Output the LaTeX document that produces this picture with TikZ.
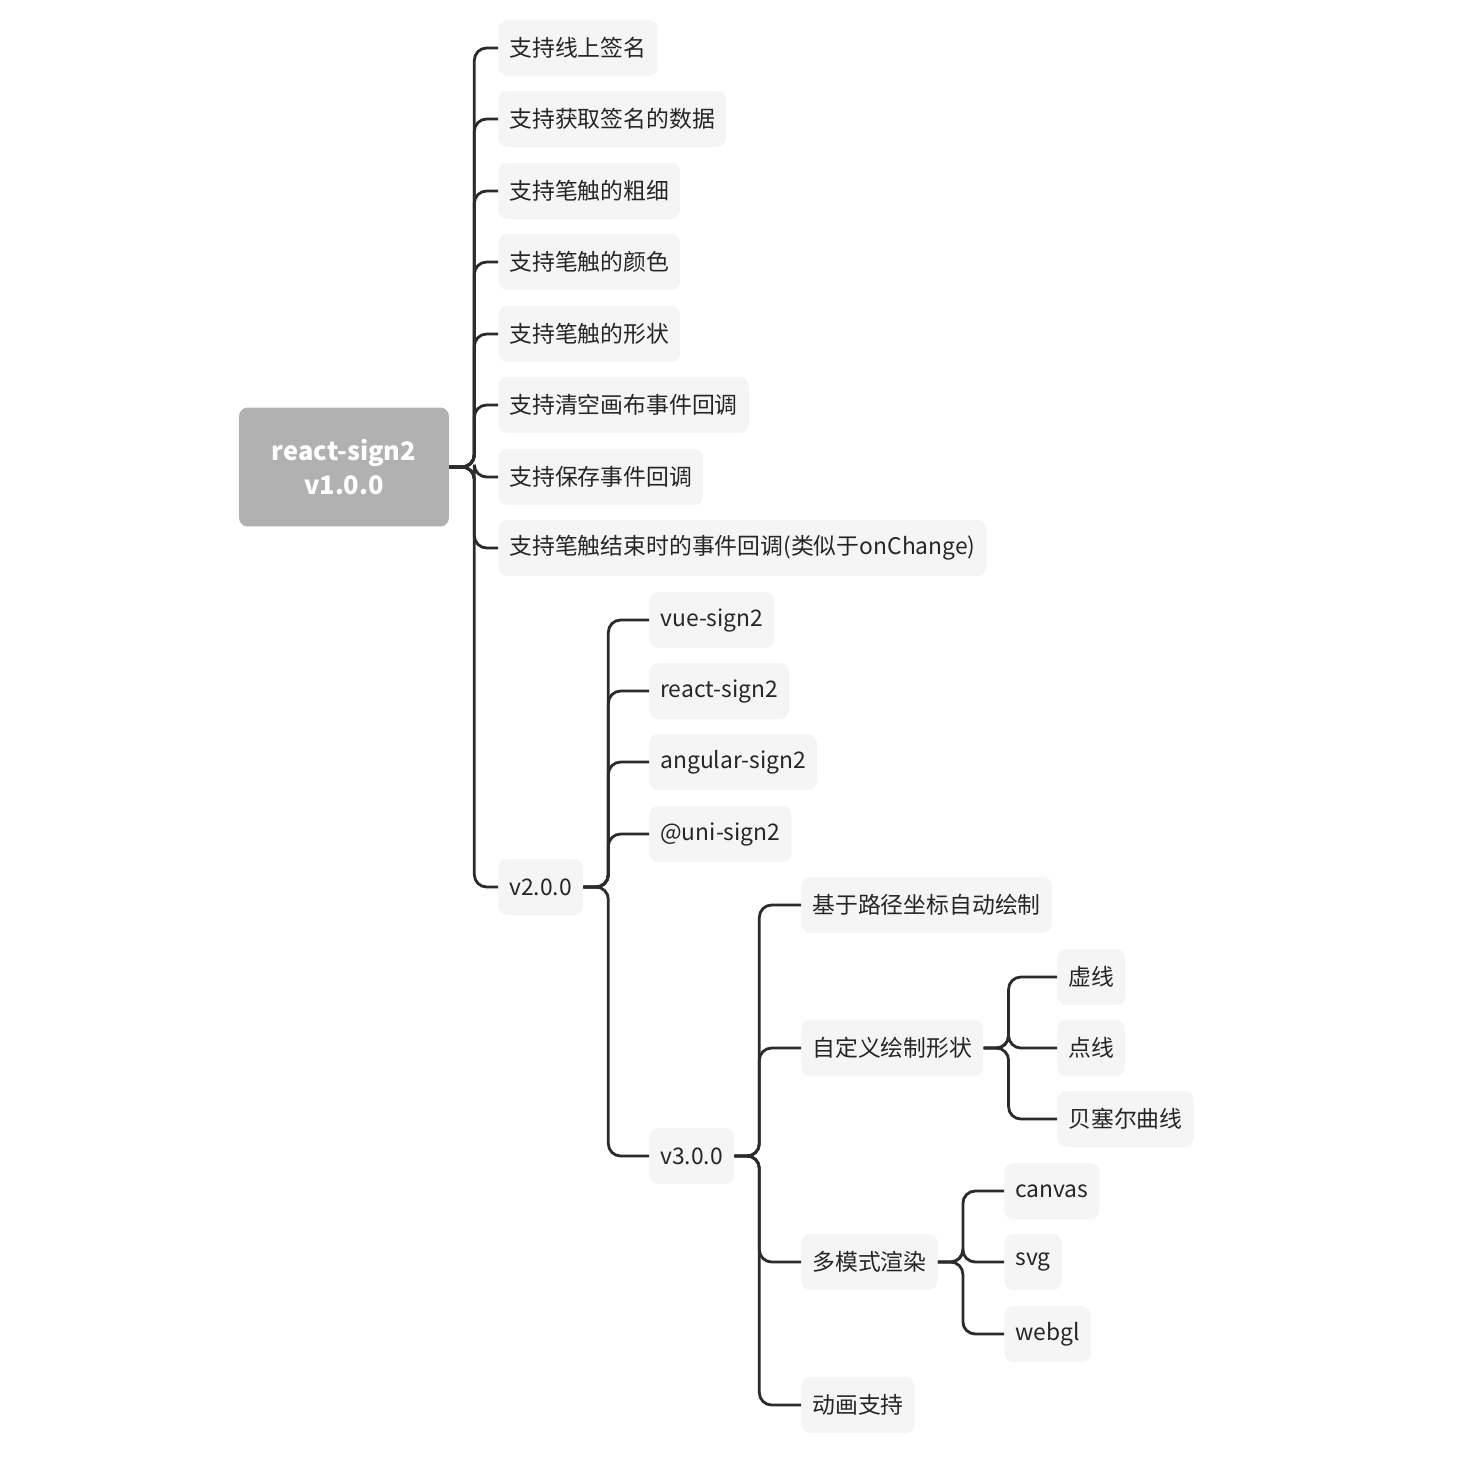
\documentclass[tikz,border=0pt]{standalone}
\usepackage{fontspec}
\setmainfont{Noto Sans CJK SC}
\usetikzlibrary{positioning}
\definecolor{rootgray}{HTML}{B1B1B1}
\definecolor{leafgray}{HTML}{F5F5F5}
\definecolor{linegray}{HTML}{2B2B2B}

\begin{document}
\begin{tikzpicture}[x=0.02cm, y=-0.02cm,
        every node/.style={rounded corners=5pt, inner xsep=0.22cm, minimum height=1.12cm, anchor=west,
            font=\fontsize{13}{16}\selectfont, text=black!85},
        root/.style={fill=rootgray, text=white, font=\fontsize{14.5}{19}\selectfont\bfseries, align=center,
            minimum width=4.2cm, minimum height=2.38cm, anchor=center},
        leaf/.style={fill=leafgray},
        conn/.style={draw=linegray, line width=1.6pt, rounded corners=7pt}
    ]
        \useasboundingbox (0,0) rectangle (1482,1468);

        % Root
        \node[root] (rootnode) at (344,467) {react-sign2\\v1.0.0};

        % First level
        \node[leaf] (f1) at (498,48) {支持线上签名};
        \node[leaf] (f2) at (498,119) {支持获取签名的数据};
        \node[leaf] (f3) at (498,191) {支持笔触的粗细};
        \node[leaf] (f4) at (498,262) {支持笔触的颜色};
        \node[leaf] (f5) at (498,334) {支持笔触的形状};
        \node[leaf] (f6) at (498,405) {支持清空画布事件回调};
        \node[leaf] (f7) at (498,477) {支持保存事件回调};
        \node[leaf] (f8) at (498,548) {支持笔触结束时的事件回调(类似于onChange)};
        \node[leaf] (vtwo) at (498,887) {v2.0.0};

        % v2.0.0
        \node[leaf] (vue) at (649,620) {vue-sign2};
        \node[leaf] (react) at (649,691) {react-sign2};
        \node[leaf] (angular) at (649,762) {angular-sign2};
        \node[leaf] (uni) at (649,834) {@uni-sign2};
        \node[leaf] (vthree) at (649,1156) {v3.0.0};

        % v3.0.0
        \node[leaf] (path) at (801,905) {基于路径坐标自动绘制};
        \node[leaf] (shape) at (801,1048) {自定义绘制形状};
        \node[leaf] (render) at (801,1262) {多模式渲染};
        \node[leaf] (anim) at (801,1405) {动画支持};

        \node[leaf] (dash) at (1057,977) {虚线};
        \node[leaf] (dot) at (1057,1048) {点线};
        \node[leaf] (bezier) at (1057,1119) {贝塞尔曲线};

        \node[leaf] (canvas) at (1004,1191) {canvas};
        \node[leaf] (svg) at (1004,1262) {svg};
        \node[leaf] (webgl) at (1004,1334) {webgl};

        % Connectors
        \foreach \child in {f1,f2,f3,f4,f5,f6,f7,f8,vtwo}
            \draw[conn] (rootnode.east) -- ++(25,0) |- (\child.west);
        \foreach \child in {vue,react,angular,uni,vthree}
            \draw[conn] (vtwo.east) -- ++(25,0) |- (\child.west);
        \foreach \child in {path,shape,render,anim}
            \draw[conn] (vthree.east) -- ++(25,0) |- (\child.west);
        \foreach \child in {dash,dot,bezier}
            \draw[conn] (shape.east) -- ++(25,0) |- (\child.west);
        \foreach \child in {canvas,svg,webgl}
            \draw[conn] (render.east) -- ++(25,0) |- (\child.west);
    \end{tikzpicture}
\end{document}
